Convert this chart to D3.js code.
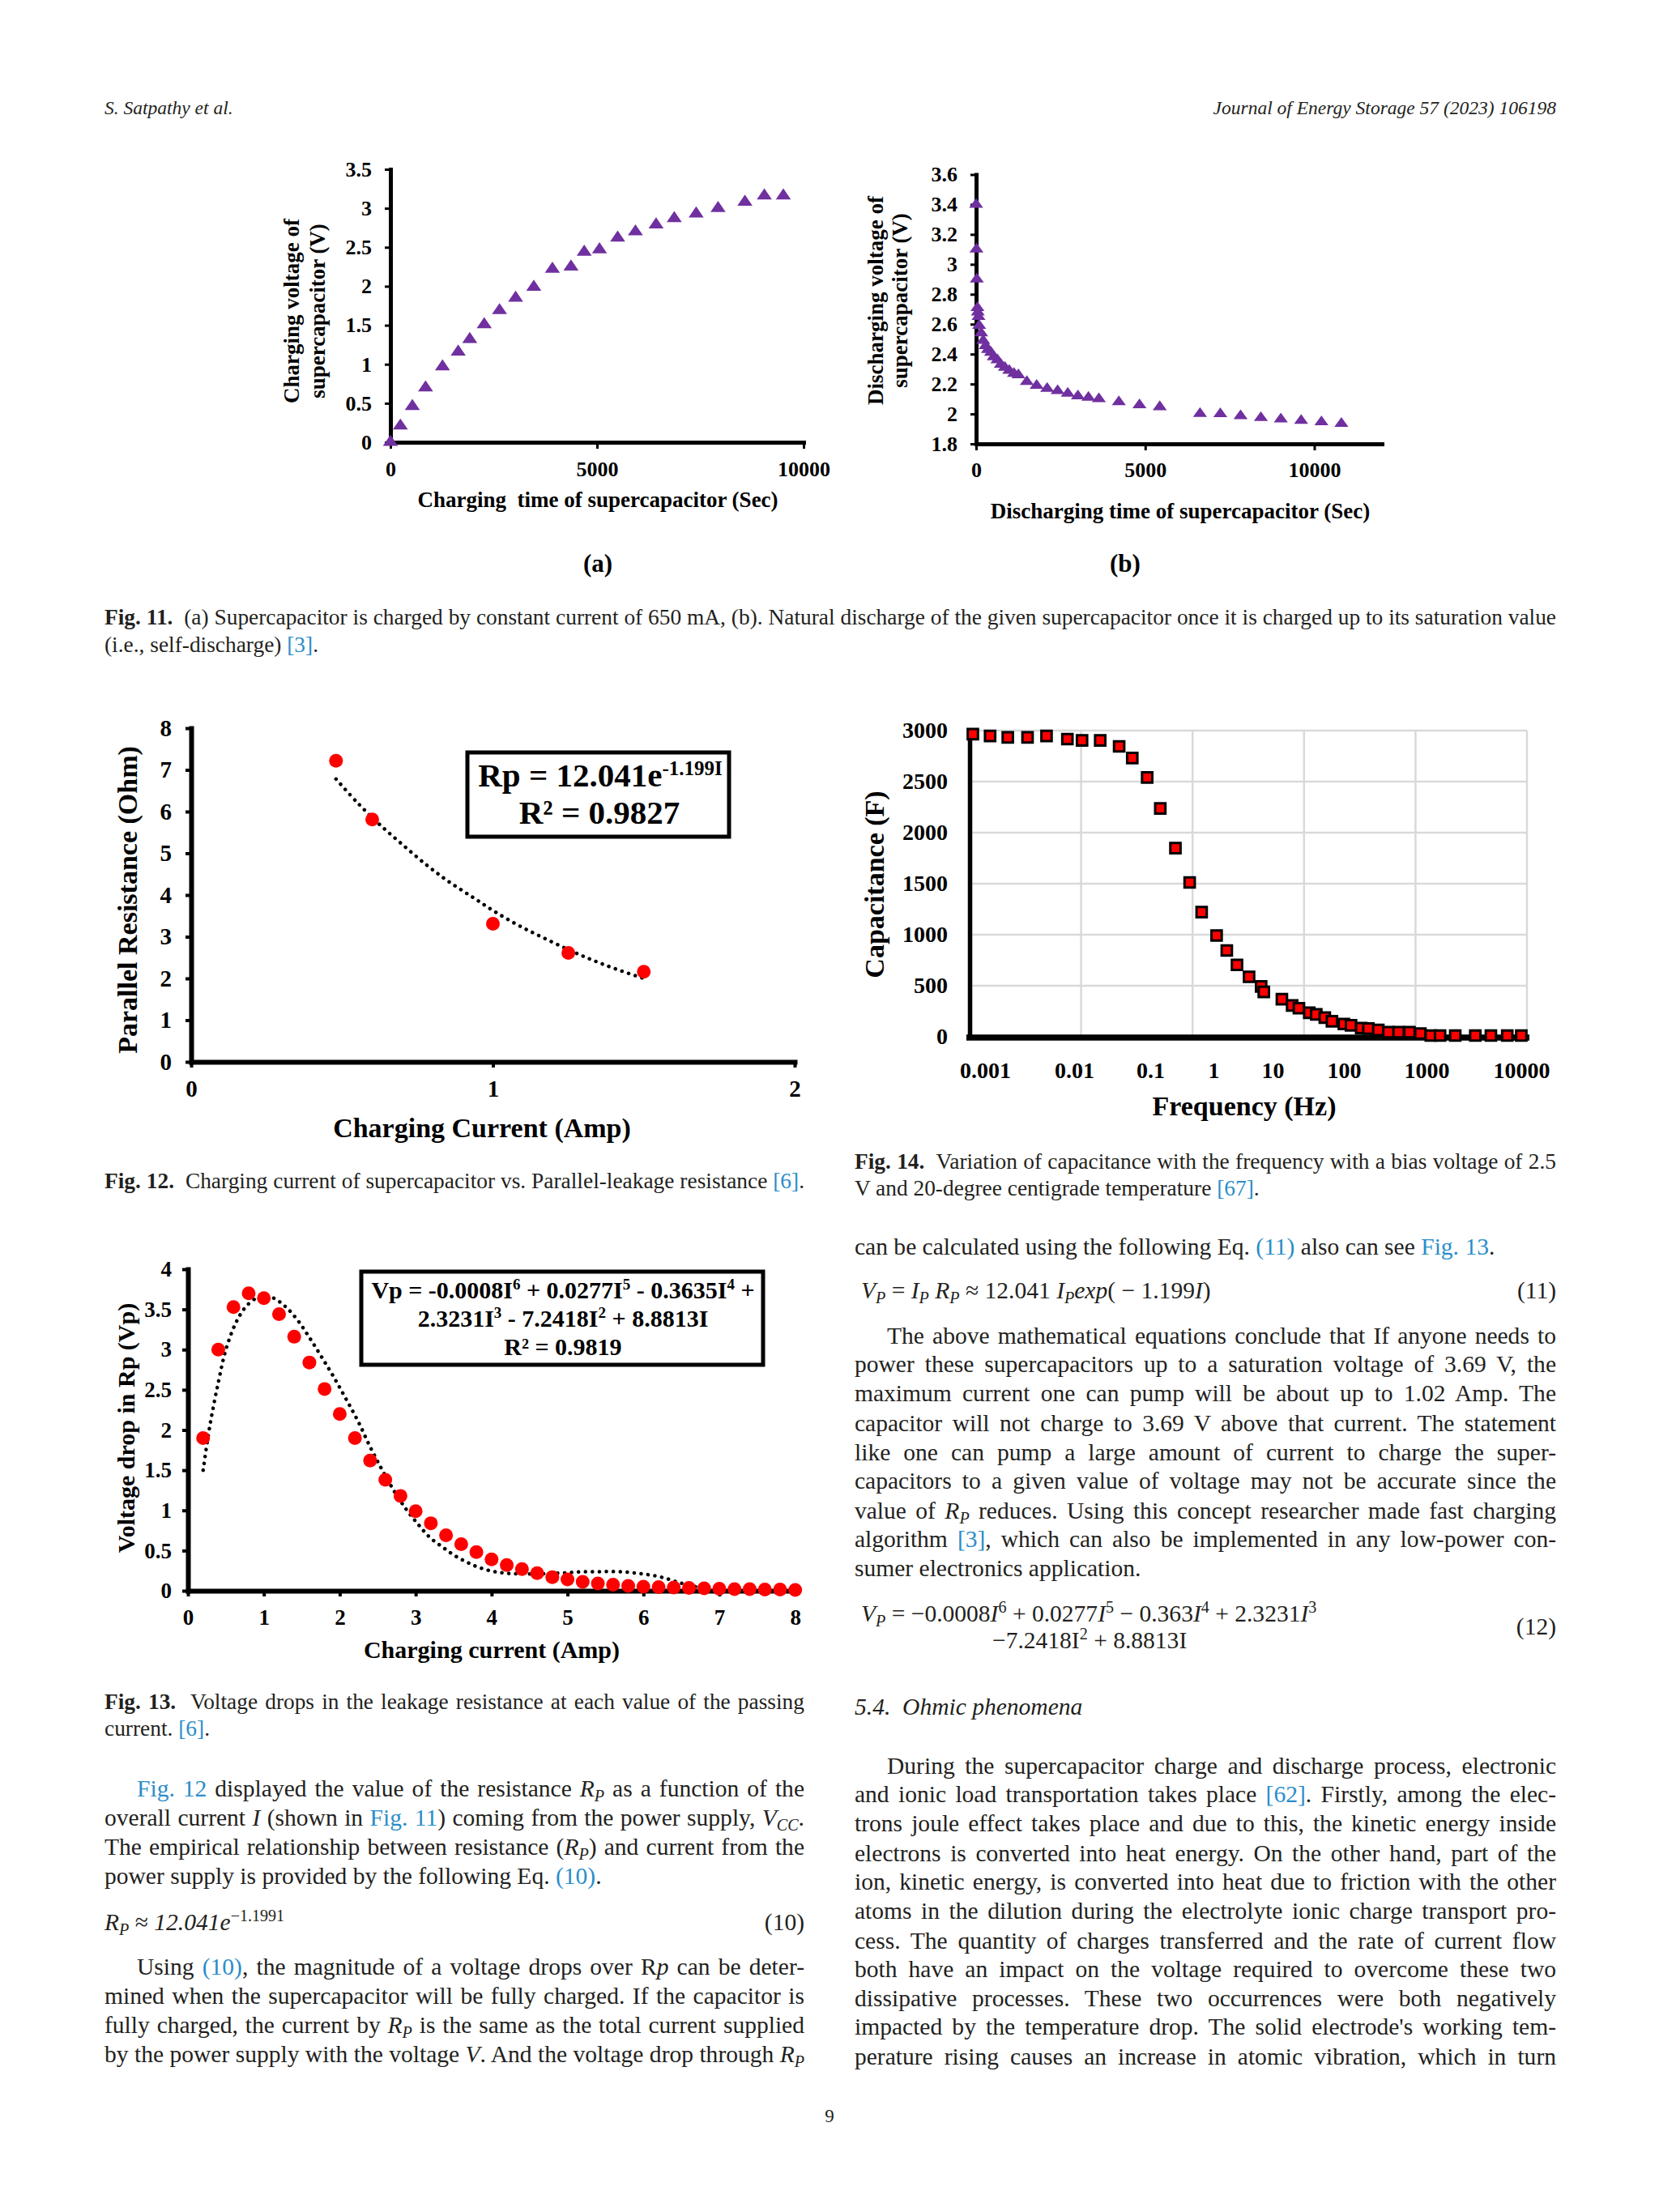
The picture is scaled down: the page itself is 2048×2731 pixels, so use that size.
<!DOCTYPE html>
<html>
<head>
<meta charset="utf-8">
<title>Supercapacitor figures</title>
<script src="https://cdn.jsdelivr.net/npm/d3@7"></script>
<style>
  html, body { margin: 0; padding: 0; background: #ffffff; }
  svg { display: block; }
</style>
</head>
<body>
<svg id="page" width="2048" height="2731" viewBox="0 0 2048 2731"></svg>
<script>
// ---------------- DATA ----------------
// Fig. 11(a) charging
const chargeTime = [0, 240, 530, 850, 1260, 1640, 1920, 2270, 2640, 3030, 3470, 3920, 4370, 4690, 5060, 5500, 5930, 6430, 6870, 7400, 7930, 8580, 9050, 9510];
const chargeVoltage = [0, 0.21, 0.46, 0.70, 0.97, 1.16, 1.32, 1.51, 1.69, 1.85, 1.99, 2.22, 2.25, 2.44, 2.47, 2.62, 2.70, 2.79, 2.87, 2.93, 3.00, 3.08, 3.16, 3.16];
const chargeTimeTicks = [0, 5000, 10000];
const chargeVoltageTicks = [0, 0.5, 1, 1.5, 2, 2.5, 3, 3.5];
// Fig. 11(b) self-discharge
const dischargeTime = [0, 10, 20, 40, 50, 70, 90, 150, 210, 280, 350, 440, 520, 630, 730, 850, 980, 1120, 1250, 1500, 1790, 2100, 2410, 2710, 3010, 3320, 3630, 4220, 4830, 5430, 6620, 7220, 7820, 8420, 9010, 9610, 10210, 10800];
const dischargeVoltage = [3.40, 3.10, 2.90, 2.71, 2.68, 2.65, 2.59, 2.54, 2.49, 2.455, 2.43, 2.41, 2.38, 2.36, 2.33, 2.31, 2.29, 2.27, 2.26, 2.215, 2.19, 2.17, 2.155, 2.137, 2.12, 2.11, 2.10, 2.08, 2.06, 2.047, 2.002, 2.0, 1.987, 1.974, 1.965, 1.955, 1.946, 1.935];
const dischargeTimeTicks = [0, 5000, 10000];
const dischargeVoltageTicks = [1.8, 2, 2.2, 2.4, 2.6, 2.8, 3, 3.2, 3.4, 3.6];
// Fig. 12 parallel resistance
const rpCurrent = [0.48, 0.6, 1.0, 1.25, 1.5];
const rpResistance = [7.22, 5.81, 3.31, 2.61, 2.16];
const rpTrendCurrent = [0.48, 0.55, 0.62, 0.70, 0.78, 0.85, 0.93, 1.00, 1.08, 1.16, 1.25, 1.33, 1.41, 1.50];
const rpTrendResistance = [6.78, 6.22, 5.72, 5.21, 4.72, 4.34, 3.96, 3.63, 3.29, 3.00, 2.69, 2.44, 2.22, 2.00];
const rpCurrentTicks = [0, 1, 2];
const rpResistanceTicks = [0, 1, 2, 3, 4, 5, 6, 7, 8];
// Fig. 13 voltage drop
const vpCurrent = [0.2, 0.4, 0.6, 0.8, 1.0, 1.2, 1.4, 1.6, 1.8, 2.0, 2.2, 2.4, 2.6, 2.8, 3.0, 3.2, 3.4, 3.6, 3.8, 4.0, 4.2, 4.4, 4.6, 4.8, 5.0, 5.2, 5.4, 5.6, 5.8, 6.0, 6.2, 6.4, 6.6, 6.8, 7.0, 7.2, 7.4, 7.6, 7.8, 8.0];
const vpVoltage = [1.9, 3.0, 3.53, 3.70, 3.64, 3.44, 3.16, 2.84, 2.51, 2.20, 1.90, 1.62, 1.38, 1.18, 0.99, 0.84, 0.69, 0.58, 0.48, 0.39, 0.32, 0.27, 0.22, 0.17, 0.14, 0.11, 0.09, 0.075, 0.06, 0.05, 0.045, 0.04, 0.035, 0.03, 0.025, 0.02, 0.02, 0.015, 0.015, 0.01];
const vpTrendCurrent = [0.2, 0.29, 0.4, 0.5, 0.63, 0.76, 0.9, 1.0, 1.13, 1.29, 1.45, 1.6, 1.76, 1.92, 2.08, 2.24, 2.4, 2.56, 2.71, 2.87, 3.03, 3.19, 3.35, 3.5, 3.66, 3.82, 4.0, 4.19, 4.4, 4.66, 4.93, 5.19, 5.45, 5.72, 5.98, 6.24, 6.5, 6.72, 6.85];
const vpTrendVoltage = [1.50, 2.06, 2.59, 3.0, 3.33, 3.53, 3.64, 3.665, 3.64, 3.53, 3.36, 3.15, 2.91, 2.66, 2.39, 2.11, 1.79, 1.50, 1.25, 1.02, 0.83, 0.66, 0.547, 0.446, 0.362, 0.295, 0.245, 0.218, 0.211, 0.211, 0.221, 0.235, 0.238, 0.235, 0.211, 0.168, 0.094, 0.044, 0.02];
const vpCurrentTicks = [0, 1, 2, 3, 4, 5, 6, 7, 8];
const vpVoltageTicks = [0, 0.5, 1, 1.5, 2, 2.5, 3, 3.5, 4];
// Fig. 14 capacitance vs frequency
const capFrequency = [0.00073, 0.00114, 0.0018, 0.003, 0.0049, 0.0084, 0.0127, 0.022, 0.039, 0.058, 0.091, 0.144, 0.25, 0.42, 0.65, 1.13, 1.68, 2.5, 4.0, 6.4, 7.1, 13.5, 18.8, 23.4, 32.7, 41, 54, 68, 100, 122, 162, 198, 261, 346, 460, 622, 843, 1110, 1390, 2010, 3270, 4780, 7110, 10000];
const capValue = [2965, 2947, 2933, 2933, 2947, 2917, 2904, 2904, 2845, 2731, 2541, 2237, 1848, 1512, 1221, 992, 845, 704, 587, 493, 440, 368, 307, 280, 235, 219, 187, 152, 125, 112, 85, 80, 67, 45, 45, 45, 32, 12, 12, 12, 12, 12, 12, 12];
const capFrequencyTicks = [0.001, 0.01, 0.1, 1, 10, 100, 1000, 10000];
const capFrequencyLabels = ["0.001", "0.01", "0.1", "1", "10", "100", "1000", "10000"];
const capValueTicks = [0, 500, 1000, 1500, 2000, 2500, 3000];

// ---------------- STYLE ----------------
const SERIF = "'Liberation Serif', 'Times New Roman', Times, serif";
const LINK = '#2b8dc9';
const TXT = '#231f20';
const PURPLE = '#7030A0';
const RED = '#FF0000';

const svg = d3.select('#page');
svg.append('rect').attr('width', 2048).attr('height', 2731).attr('fill', '#fff');

function styleAxis(a, fs, dw, tw) {
  a.attr('font-family', SERIF).attr('font-size', fs).attr('font-weight', 'bold');
  a.select('.domain').attr('stroke', '#000').attr('stroke-width', dw).attr('stroke-linecap', 'square');
  a.selectAll('.tick line').attr('stroke', '#000').attr('stroke-width', tw);
  a.selectAll('.tick text').attr('fill', '#000');
  return a;
}
function title(g, x, y, txt, fs, rotate) {
  const t = g.append('text')
    .attr('font-family', SERIF).attr('font-weight', 'bold').attr('font-size', fs)
    .attr('text-anchor', 'middle').attr('fill', '#000').style('white-space', 'pre')
    .text(txt);
  if (rotate) t.attr('transform', `translate(${x},${y}) rotate(-90)`);
  else t.attr('x', x).attr('y', y);
  return t;
}
const fmt = d => String(d);
const zip = (a, b) => a.map((v, i) => [v, b[i]]);

// ---------------- FIG 11(a) ----------------
(function () {
  const g = svg.append('g');
  const x = d3.scaleLinear().domain([0, 10000]).range([482, 992]);
  const y = d3.scaleLinear().domain([0, 3.5]).range([546, 209]);
  styleAxis(g.append('g').attr('transform', `translate(${x(0)},0)`)
    .call(d3.axisLeft(y).tickValues(chargeVoltageTicks).tickSize(7).tickSizeOuter(0).tickPadding(16).tickFormat(fmt)), 26, 5, 3);
  styleAxis(g.append('g').attr('transform', `translate(0,${y(0)})`)
    .call(d3.axisBottom(x).tickValues(chargeTimeTicks).tickSize(8).tickSizeOuter(0).tickPadding(16).tickFormat(fmt)), 26, 5, 3);
  const sym = d3.symbol(d3.symbolTriangle, 150);
  g.selectAll('path.pt').data(zip(chargeTime, chargeVoltage)).join('path').attr('class', 'pt')
    .attr('transform', d => `translate(${x(d[0])},${y(d[1])}) scale(1,0.85)`)
    .attr('d', sym).attr('fill', PURPLE);
  title(g, 369, 384, 'Charging voltage of', 27, true);
  title(g, 401, 384, 'supercapacitor (V)', 27, true);
  title(g, 738, 626, 'Charging  time of supercapacitor (Sec)', 27);
  title(g, 738, 706, '(a)', 31);
})();

// ---------------- FIG 11(b) ----------------
(function () {
  const g = svg.append('g');
  const x = d3.scaleLinear().domain([0, 12000]).range([1205, 1706]);
  const y = d3.scaleLinear().domain([1.8, 3.6]).range([548, 215.5]);
  styleAxis(g.append('g').attr('transform', `translate(${x(0)},0)`)
    .call(d3.axisLeft(y).tickValues(dischargeVoltageTicks).tickSize(7).tickSizeOuter(0).tickPadding(16).tickFormat(fmt)), 26, 5, 3);
  styleAxis(g.append('g').attr('transform', `translate(0,${y(1.8)})`)
    .call(d3.axisBottom(x).tickValues(dischargeTimeTicks).tickSize(8).tickSizeOuter(0).tickPadding(15).tickFormat(fmt)), 26, 5, 3);
  const sym = d3.symbol(d3.symbolTriangle, 130);
  g.selectAll('path.pt').data(zip(dischargeTime, dischargeVoltage)).join('path').attr('class', 'pt')
    .attr('transform', d => `translate(${x(d[0])},${y(d[1])}) scale(1,0.8)`)
    .attr('d', sym).attr('fill', PURPLE);
  title(g, 1090, 371, 'Discharging voltage of', 27, true);
  title(g, 1120, 371, 'supercapacitor (V)', 27, true);
  title(g, 1457, 640, 'Discharging time of supercapacitor (Sec)', 27);
  title(g, 1389, 706, '(b)', 31);
})();

// ---------------- FIG 12 ----------------
(function () {
  const g = svg.append('g');
  const x = d3.scaleLinear().domain([0, 2]).range([236, 981]);
  const y = d3.scaleLinear().domain([0, 8]).range([1311, 899]);
  styleAxis(g.append('g').attr('transform', `translate(${x(0)},0)`)
    .call(d3.axisLeft(y).tickValues(rpResistanceTicks).tickSize(7).tickSizeOuter(0).tickPadding(17).tickFormat(fmt)), 29, 6, 4);
  styleAxis(g.append('g').attr('transform', `translate(0,${y(0)})`)
    .call(d3.axisBottom(x).tickValues(rpCurrentTicks).tickSize(7).tickSizeOuter(0).tickPadding(15).tickFormat(fmt)), 29, 6, 4);
  const line = d3.line().x(d => x(d[0])).y(d => y(d[1])).curve(d3.curveCatmullRom);
  g.append('path').datum(zip(rpTrendCurrent, rpTrendResistance)).attr('d', line)
    .attr('fill', 'none').attr('stroke', '#000').attr('stroke-width', 4.5)
    .attr('stroke-dasharray', '0.1 8.5').attr('stroke-linecap', 'round');
  g.selectAll('circle.pt').data(zip(rpCurrent, rpResistance)).join('circle').attr('class', 'pt')
    .attr('cx', d => x(d[0])).attr('cy', d => y(d[1])).attr('r', 8.5).attr('fill', RED);
  g.append('rect').attr('x', 577).attr('y', 929).attr('width', 323).attr('height', 104)
    .attr('fill', '#fff').attr('stroke', '#000').attr('stroke-width', 5);
  const t1 = g.append('text').attr('x', 741).attr('y', 971).attr('text-anchor', 'middle')
    .attr('font-family', SERIF).attr('font-weight', 'bold').attr('font-size', 41).attr('fill', '#000');
  t1.append('tspan').text('Rp = 12.041e');
  t1.append('tspan').attr('font-size', 25).attr('dy', -14).text('-1.199I');
  g.append('text').attr('x', 740).attr('y', 1017).attr('text-anchor', 'middle')
    .attr('font-family', SERIF).attr('font-weight', 'bold').attr('font-size', 41).attr('fill', '#000')
    .text('R² = 0.9827');
  title(g, 169, 1111, 'Parallel Resistance (Ohm)', 34, true);
  title(g, 595, 1404, 'Charging Current (Amp)', 34);
})();

// ---------------- FIG 14 ----------------
(function () {
  const g = svg.append('g');
  const left = 1197, right = 1885;
  const x = d3.scaleLog().domain(capFrequencyTicks).range([1216, 1326, 1420, 1498, 1571, 1659, 1761, 1878]);
  const y = d3.scaleLinear().domain([0, 3000]).range([1280, 902]);
  const gridX = d3.scaleLinear().domain([0, 5]).range([left, right]);
  g.append('g').selectAll('line').data(capValueTicks.filter(v => v > 0)).join('line')
    .attr('x1', left).attr('x2', right).attr('y1', d => y(d)).attr('y2', d => y(d))
    .attr('stroke', '#d9d9d9').attr('stroke-width', 2.5);
  g.append('g').selectAll('line').data([1, 2, 3, 4, 5]).join('line')
    .attr('x1', d => gridX(d)).attr('x2', d => gridX(d)).attr('y1', y(3000)).attr('y2', y(0))
    .attr('stroke', '#d9d9d9').attr('stroke-width', 2.5);
  styleAxis(g.append('g').attr('transform', `translate(${left},0)`)
    .call(d3.axisLeft(y).tickValues(capValueTicks).tickSize(0).tickSizeOuter(0).tickPadding(27).tickFormat(fmt)), 28, 5.5, 0);
  const xa = styleAxis(g.append('g').attr('transform', `translate(0,${y(0)})`)
    .call(d3.axisBottom(x).tickValues(capFrequencyTicks).tickSize(0).tickSizeOuter(0).tickPadding(31)
      .tickFormat((d, i) => capFrequencyLabels[i])), 28, 0, 0);
  xa.select('.domain').remove();
  g.append('line').attr('x1', gridX(0) - 4).attr('x2', gridX(5) + 3).attr('y1', y(0) + 1).attr('y2', y(0) + 1)
    .attr('stroke', '#000').attr('stroke-width', 7.5);
  const sym = d3.symbol(d3.symbolSquare, 160);
  g.selectAll('path.pt').data(zip(capFrequency, capValue)).join('path').attr('class', 'pt')
    .attr('transform', d => `translate(${x(d[0])},${y(d[1])})`)
    .attr('d', sym).attr('fill', RED).attr('stroke', '#000').attr('stroke-width', 3);
  title(g, 1091, 1092, 'Capacitance (F)', 34, true);
  title(g, 1536, 1377, 'Frequency (Hz)', 34);
})();

// ---------------- FIG 13 ----------------
(function () {
  const g = svg.append('g');
  const x = d3.scaleLinear().domain([0, 8]).range([232, 981.7]);
  const y = d3.scaleLinear().domain([0, 4]).range([1964, 1567]);
  styleAxis(g.append('g').attr('transform', `translate(${x(0)},0)`)
    .call(d3.axisLeft(y).tickValues(vpVoltageTicks).tickSize(7).tickSizeOuter(0).tickPadding(13).tickFormat(fmt)), 27, 6, 4);
  styleAxis(g.append('g').attr('transform', `translate(0,${y(0)})`)
    .call(d3.axisBottom(x).tickValues(vpCurrentTicks).tickSize(7).tickSizeOuter(0).tickPadding(16).tickFormat(fmt)), 27, 6, 4);
  const line = d3.line().x(d => x(d[0])).y(d => y(d[1])).curve(d3.curveCatmullRom);
  g.append('path').datum(zip(vpTrendCurrent, vpTrendVoltage)).attr('d', line)
    .attr('fill', 'none').attr('stroke', '#000').attr('stroke-width', 4.5)
    .attr('stroke-dasharray', '0.1 8.5').attr('stroke-linecap', 'round');
  g.selectAll('circle.pt').data(zip(vpCurrent, vpVoltage)).join('circle').attr('class', 'pt')
    .attr('cx', d => x(d[0])).attr('cy', d => y(d[1])).attr('r', 8.5).attr('fill', RED);
  g.append('rect').attr('x', 446).attr('y', 1570).attr('width', 496).attr('height', 115)
    .attr('fill', '#fff').attr('stroke', '#000').attr('stroke-width', 5);
  const eqLines = [
    [1603, [['Vp = -0.0008I'], ['6', 1], [' + 0.0277I'], ['5', 1], [' - 0.3635I'], ['4', 1], [' +']]],
    [1638, [['2.3231I'], ['3', 1], [' - 7.2418I'], ['2', 1], [' + 8.8813I']]],
    [1673, [['R² = 0.9819']]]
  ];
  eqLines.forEach(([yy, parts]) => {
    const t = g.append('text').attr('x', 695).attr('y', yy).attr('text-anchor', 'middle')
      .attr('font-family', SERIF).attr('font-weight', 'bold').attr('font-size', 30).attr('fill', '#000')
      .style('white-space', 'pre');
    let shift = 0;
    parts.forEach(([s, sup]) => {
      const target = sup ? -11 : 0;
      const sp = t.append('tspan').text(s);
      if (sup) sp.attr('font-size', 19);
      if (target !== shift) { sp.attr('dy', target - shift); shift = target; }
    });
  });
  title(g, 166, 1763, 'Voltage drop in Rp (Vp)', 30, true);
  title(g, 607, 2047, 'Charging current (Amp)', 30);
})();

// ---------------- PAGE TEXT ----------------
function rich(x, y, segs, o = {}) {
  const size = o.size || 28;
  const t = svg.append('text').attr('x', x).attr('y', y)
    .attr('font-family', SERIF).attr('font-size', size).attr('fill', o.fill || TXT)
    .style('white-space', 'pre');
  if (o.anchor) t.attr('text-anchor', o.anchor);
  let shift = 0;
  let plain = '';
  segs.forEach(s => {
    if (typeof s === 'string') s = { t: s };
    const sp = t.append('tspan').text(s.t);
    plain += s.t;
    if (s.i) sp.attr('font-style', 'italic');
    if (s.b) sp.attr('font-weight', 'bold');
    if (s.l) sp.attr('fill', LINK);
    let target = 0;
    if (s.sub) { target = size * 0.2; sp.attr('font-size', size * 0.68); }
    if (s.sup) { target = -size * 0.38; sp.attr('font-size', size * 0.68); }
    if (target !== shift) { sp.attr('dy', target - shift); shift = target; }
  });
  if (o.width) {
    const natural = t.node().getComputedTextLength();
    const n = (plain.match(/ /g) || []).length;
    if (n > 0) {
      t.style('word-spacing', ((o.width - natural) / n) + 'px');
      const after = t.node().getComputedTextLength();
      if (Math.abs(after - o.width) > 2) {
        t.style('word-spacing', null).attr('textLength', o.width).attr('lengthAdjust', 'spacing');
      }
    }
  }
  return t;
}
// font size such that the tightest justified line of a group sets naturally
function fitSize(lines, base) {
  let k = 1.3;
  lines.forEach(l => {
    if (!l.w) return;
    const t = rich(0, -200, l.s, { size: base });
    const w = t.node().getComputedTextLength();
    t.remove();
    k = Math.min(k, l.w / w);
  });
  return base * k;
}
function renderGroup(lines, size) {
  lines.forEach(l => rich(l.x, l.y, l.s, { size, width: l.w, anchor: l.a }));
}

const RP = [{ t: 'R', i: 1 }, { t: 'P', i: 1, sub: 1 }];
const VP = [{ t: 'V', i: 1 }, { t: 'P', i: 1, sub: 1 }];
const IP = [{ t: 'I', i: 1 }, { t: 'P', i: 1, sub: 1 }];
const II = { t: 'I', i: 1 };

// header & footer
rich(129, 141, [{ t: 'S. Satpathy et al.', i: 1 }], { size: 23.5 });
rich(1921, 141, [{ t: 'Journal of Energy Storage 57 (2023) 106198', i: 1 }], { size: 23.5, anchor: 'end' });
rich(1024, 2620, ['9'], { size: 23, anchor: 'middle' });

// captions
const captions = [
  { x: 129, y: 771, w: 1792, s: [{ t: 'Fig. 11.', b: 1 }, '  (a) Supercapacitor is charged by constant current of 650 mA, (b). Natural discharge of the given supercapacitor once it is charged up to its saturation value'] },
  { x: 129, y: 805, s: ['(i.e., self-discharge) ', { t: '[3]', l: 1 }, '.'] },
  { x: 129, y: 1467, w: 864, s: [{ t: 'Fig. 12.', b: 1 }, '  Charging current of supercapacitor vs. Parallel-leakage resistance ', { t: '[6]', l: 1 }, '.'] },
  { x: 1055, y: 1443, w: 866, s: [{ t: 'Fig. 14.', b: 1 }, '  Variation of capacitance with the frequency with a bias voltage of 2.5'] },
  { x: 1055, y: 1476, s: ['V and 20-degree centigrade temperature ', { t: '[67]', l: 1 }, '.'] },
  { x: 129, y: 2110, w: 864, s: [{ t: 'Fig. 13.', b: 1 }, '  Voltage drops in the leakage resistance at each value of the passing'] },
  { x: 129, y: 2143, s: ['current. ', { t: '[6]', l: 1 }, '.'] }
];
renderGroup(captions, fitSize(captions, 25));

// body text
const LX = 129, LW = 864, RX = 1055, RW = 866, IND = 40;
const body = [
  { x: LX + IND, y: 2218, w: LW - IND, s: [{ t: 'Fig. 12', l: 1 }, ' displayed the value of the resistance ', ...RP, ' as a function of the'] },
  { x: LX, y: 2254, w: LW, s: ['overall current ', II, ' (shown in ', { t: 'Fig. 11', l: 1 }, ') coming from the power supply, ', { t: 'V', i: 1 }, { t: 'CC', i: 1, sub: 1 }, '.'] },
  { x: LX, y: 2290, w: LW, s: ['The empirical relationship between resistance (', ...RP, ') and current from the'] },
  { x: LX, y: 2326, s: ['power supply is provided by the following Eq. ', { t: '(10)', l: 1 }, '.'] },
  { x: LX, y: 2383, s: [...RP, ' ≈ ', { t: '12.041e', i: 1 }, { t: '−1.1991', sup: 1 }] },
  { x: LX + LW, y: 2383, a: 'end', s: ['(10)'] },
  { x: LX + IND, y: 2438, w: LW - IND, s: ['Using ', { t: '(10)', l: 1 }, ', the magnitude of a voltage drops over R', { t: 'p', i: 1 }, ' can be deter-'] },
  { x: LX, y: 2474, w: LW, s: ['mined when the supercapacitor will be fully charged. If the capacitor is'] },
  { x: LX, y: 2510, w: LW, s: ['fully charged, the current by ', ...RP, ' is the same as the total current supplied'] },
  { x: LX, y: 2546, w: LW, s: ['by the power supply with the voltage ', { t: 'V', i: 1 }, '. And the voltage drop through ', ...RP] },

  { x: RX, y: 1549, s: ['can be calculated using the following Eq. ', { t: '(11)', l: 1 }, ' also can see ', { t: 'Fig. 13', l: 1 }, '.'] },
  { x: RX + 8, y: 1603, s: [...VP, ' = ', ...IP, ' ', ...RP, ' ≈ 12.041 ', ...IP, { t: 'exp', i: 1 }, '( − 1.199', II, ')'] },
  { x: RX + RW, y: 1603, a: 'end', s: ['(11)'] },
  { x: RX + IND, y: 1659, w: RW - IND, s: ['The above mathematical equations conclude that If anyone needs to'] },
  { x: RX, y: 1694, w: RW, s: ['power these supercapacitors up to a saturation voltage of 3.69 V, the'] },
  { x: RX, y: 1730, w: RW, s: ['maximum current one can pump will be about up to 1.02 Amp. The'] },
  { x: RX, y: 1767, w: RW, s: ['capacitor will not charge to 3.69 V above that current. The statement'] },
  { x: RX, y: 1803, w: RW, s: ['like one can pump a large amount of current to charge the super-'] },
  { x: RX, y: 1838, w: RW, s: ['capacitors to a given value of voltage may not be accurate since the'] },
  { x: RX, y: 1875, w: RW, s: ['value of ', ...RP, ' reduces. Using this concept researcher made fast charging'] },
  { x: RX, y: 1910, w: RW, s: ['algorithm ', { t: '[3]', l: 1 }, ', which can also be implemented in any low-power con-'] },
  { x: RX, y: 1946, s: ['sumer electronics application.'] },
  { x: RX + 8, y: 2002, s: [...VP, ' = −0.0008', II, { t: '6', sup: 1 }, ' + 0.0277', II, { t: '5', sup: 1 }, ' − 0.363', II, { t: '4', sup: 1 }, ' + 2.3231', II, { t: '3', sup: 1 }] },
  { x: 1225, y: 2035, s: ['−7.2418I', { t: '2', sup: 1 }, ' + 8.8813I'] },
  { x: RX + RW, y: 2018, a: 'end', s: ['(12)'] },
  { x: RX, y: 2117, s: [{ t: '5.4.  Ohmic phenomena', i: 1 }] },
  { x: RX + IND, y: 2190, w: RW - IND, s: ['During the supercapacitor charge and discharge process, electronic'] },
  { x: RX, y: 2225, w: RW, s: ['and ionic load transportation takes place ', { t: '[62]', l: 1 }, '. Firstly, among the elec-'] },
  { x: RX, y: 2261, w: RW, s: ['trons joule effect takes place and due to this, the kinetic energy inside'] },
  { x: RX, y: 2298, w: RW, s: ['electrons is converted into heat energy. On the other hand, part of the'] },
  { x: RX, y: 2333, w: RW, s: ['ion, kinetic energy, is converted into heat due to friction with the other'] },
  { x: RX, y: 2369, w: RW, s: ['atoms in the dilution during the electrolyte ionic charge transport pro-'] },
  { x: RX, y: 2406, w: RW, s: ['cess. The quantity of charges transferred and the rate of current flow'] },
  { x: RX, y: 2441, w: RW, s: ['both have an impact on the voltage required to overcome these two'] },
  { x: RX, y: 2477, w: RW, s: ['dissipative processes. These two occurrences were both negatively'] },
  { x: RX, y: 2512, w: RW, s: ['impacted by the temperature drop. The solid electrode\'s working tem-'] },
  { x: RX, y: 2549, w: RW, s: ['perature rising causes an increase in atomic vibration, which in turn'] }
];
renderGroup(body, fitSize(body, 28));
</script>
</body>
</html>
